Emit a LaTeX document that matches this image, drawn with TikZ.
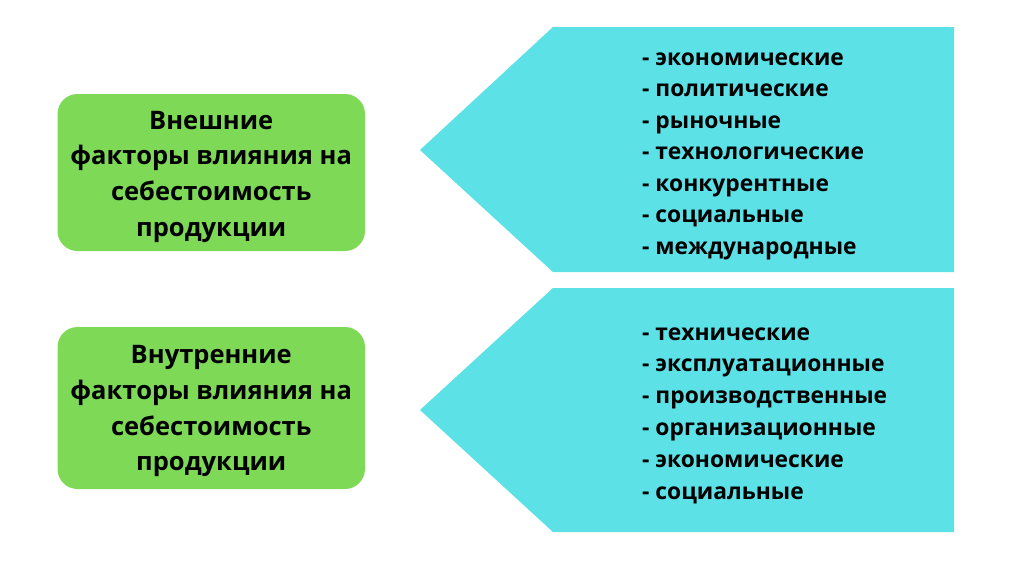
\documentclass[tikz,border=0pt]{standalone}
\usepackage{fontspec}
\setmainfont{Open Sans}
\definecolor{boxgreen}{HTML}{7ED957}
\definecolor{arrowcyan}{HTML}{5CE1E6}
\tikzset{
  factorbox/.style={fill=boxgreen, rounded corners=20pt, minimum width=307.5pt, inner sep=0pt},
  boxtext/.style={font=\fontsize{25.5}{35.8}\selectfont\bfseries, align=center, inner sep=0pt, anchor=north},
  itemtext/.style={font=\fontsize{22.8}{31.5}\selectfont\bfseries, anchor=base west, inner sep=0pt}
}
\begin{document}
\begin{tikzpicture}[x=1pt,y=-1pt]
\useasboundingbox (0,0) rectangle (1024,576);
\fill[white] (0,0) rectangle (1024,576);
% green boxes
\node[factorbox, minimum height=157pt] (outer) at (211.25,172.5) {};
\node[factorbox, minimum height=162pt] (inner) at (211.25,408) {};
\node[boxtext] (outer-text) at ([yshift=-16.8pt]outer.north) {Внешние\\факторы влияния на\\себестоимость\\продукции};
\node[boxtext] (inner-text) at ([yshift=-18.3pt]inner.north) {Внутренние\\факторы влияния на\\себестоимость\\продукции};
% cyan arrows
\fill[arrowcyan] (420,150) -- (553,27) -- (954,27) -- (954,272) -- (553,272) -- cycle;
\fill[arrowcyan] (420,410) -- (553,288) -- (954,288) -- (954,532) -- (553,532) -- cycle;
% lists
\foreach \txt [count=\i from 0] in {экономические, политические, рыночные, технологические, конкурентные, социальные, международные}
  \node[itemtext] (outer-\i) at (642,65+31.5*\i) {- \txt};
\foreach \txt [count=\i from 0] in {технические, эксплуатационные, производственные, организационные, экономические, социальные}
  \node[itemtext] (inner-\i) at (642,340+31.8*\i) {- \txt};
\end{tikzpicture}
\end{document}
